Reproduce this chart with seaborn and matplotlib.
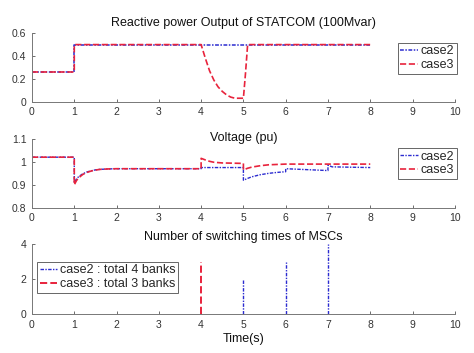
import numpy as np
import pandas as pd
import seaborn as sns
import matplotlib.pyplot as plt

# reactive power output of STATCOM (100Mvar)
q_t2 = [0, 1, 1, 8]
q_v2 = [0.26, 0.26, 0.5, 0.5]
q_t3 = [0, 1, 1, 4, 4.1, 4.2, 4.3, 4.4, 4.5, 4.6, 4.7, 4.8, 4.9, 5.0, 5.05, 5.1, 8]
q_v3 = [0.26, 0.26, 0.5, 0.5, 0.38, 0.27, 0.19, 0.13, 0.09, 0.06, 0.04, 0.03, 0.03, 0.03, 0.25, 0.5, 0.5]

# voltage (pu)
v_t2 = [0, 1, 1, 1.05, 1.1, 1.2, 1.3, 1.4, 1.5, 1.6, 1.8, 2, 4, 4, 5, 5,
        5.1, 5.2, 5.4, 5.6, 5.8, 6, 6, 7, 7, 7.1, 8]
v_v2 = [1.02, 1.02, 0.91, 0.925, 0.935, 0.948, 0.956, 0.961, 0.965, 0.967, 0.969, 0.97, 0.97, 0.975, 0.975, 0.92,
        0.928, 0.935, 0.944, 0.95, 0.954, 0.957, 0.97, 0.962, 0.985, 0.978, 0.975]
v_t3 = [0, 1, 1, 1.05, 1.1, 1.2, 1.3, 1.4, 1.5, 1.6, 1.8, 2, 4, 4,
        4.1, 4.2, 4.3, 4.5, 5, 5, 5.1, 5.2, 5.4, 5.6, 6, 8]
v_v3 = [1.02, 1.02, 0.90, 0.918, 0.93, 0.945, 0.954, 0.96, 0.964, 0.967, 0.969, 0.97, 0.97, 1.015,
        1.008, 1.002, 0.998, 0.995, 0.993, 0.965, 0.972, 0.977, 0.983, 0.987, 0.99, 0.99]

# MSC switching
sw_t2 = [5, 6, 7]
sw_n2 = [2, 3, 4]
sw_t3 = [4]
sw_n3 = [3]

blue = '#2b2bd0'
red = '#e8233c'
gray = '#555555'
blue_ls = (0, (2.5, 1, 1, 1))

sns.set_theme(style='ticks')
plt.rcParams['font.family'] = ['Liberation Sans', 'DejaVu Sans']

fig = plt.figure(figsize=(4.74, 3.53), dpi=100)
left, width = 0.0675, 0.892
ax1 = fig.add_axes([left, 0.712, width, 0.194])
ax2 = fig.add_axes([left, 0.411, width, 0.196])
ax3 = fig.add_axes([left, 0.110, width, 0.198])

sns.lineplot(x=q_t2, y=q_v2, estimator=None, sort=False, color=blue, linestyle=blue_ls,
             linewidth=1.1, label='case2', ax=ax1)
sns.lineplot(x=q_t3, y=q_v3, estimator=None, sort=False, color=red, linestyle='--',
             linewidth=1.2, label='case3', ax=ax1)

sns.lineplot(x=v_t2, y=v_v2, estimator=None, sort=False, color=blue, linestyle=blue_ls,
             linewidth=1.0, label='case2', ax=ax2)
sns.lineplot(x=v_t3, y=v_v3, estimator=None, sort=False, color=red, linestyle='--',
             linewidth=1.2, label='case3', ax=ax2)

ax3.vlines(sw_t2, 0, sw_n2, colors=blue, linestyles=[blue_ls], linewidth=1.0,
           label='case2 : total 4 banks')
ax3.vlines(sw_t3, 0, sw_n3, colors=red, linestyles='--', linewidth=1.4,
           label='case3 : total 3 banks')

ax1.set_ylim(0, 0.6)
ax1.set_yticks([0, 0.2, 0.4, 0.6])
ax1.set_yticklabels(['0', '0.2', '0.4', '0.6'])
ax2.set_ylim(0.8, 1.1)
ax2.set_yticks([0.8, 0.9, 1.0, 1.1])
ax2.set_yticklabels(['0.8', '0.9', '1', '1.1'])
ax3.set_ylim(0, 4)
ax3.set_yticks([0, 2, 4])

titles = ['Reactive power Output of STATCOM (100Mvar)', 'Voltage (pu)',
          'Number of switching times of MSCs']
title_y = [1.145, 1.01, 1.11]
for ax, title, ty in zip([ax1, ax2, ax3], titles, title_y):
    ax.set_xlim(0, 10)
    ax.set_xticks(range(11))
    ax.set_xlabel('')
    ax.set_ylabel('')
    ax.tick_params(direction='in', length=2.5, width=0.6, labelsize=7.5,
                   colors=gray, labelcolor='#333333', pad=4)
    for side in ['top', 'right']:
        ax.spines[side].set_visible(False)
    for side in ['left', 'bottom']:
        ax.spines[side].set_color('#777777')
        ax.spines[side].set_linewidth(0.7)
    ax.text(0.5, ty, title, transform=ax.transAxes, ha='center', va='center',
            fontsize=9, color='#111111')

ax3.set_xlabel('Time(s)', fontsize=9, color='#111111', labelpad=2)

leg_kw = dict(fontsize=9, frameon=True, fancybox=False, framealpha=1,
              edgecolor='#666666', borderpad=0.2, labelspacing=0.15,
              handlelength=1.4, handletextpad=0.25, borderaxespad=0)
l1 = ax1.legend(loc='upper right', bbox_to_anchor=(1.005, 0.858), **leg_kw)
l2 = ax2.legend(loc='upper right', bbox_to_anchor=(1.005, 0.866), **leg_kw)
l3 = ax3.legend(loc='upper left', bbox_to_anchor=(0.012, 0.747), **leg_kw)
for leg in [l1, l2, l3]:
    leg.get_frame().set_linewidth(0.7)

fig.savefig('out.png', dpi=100)
